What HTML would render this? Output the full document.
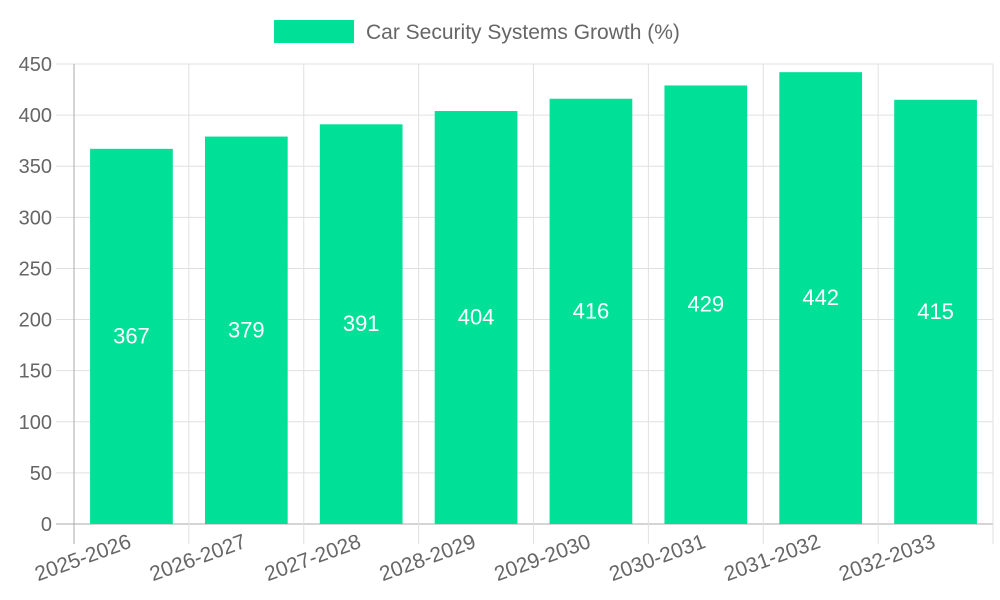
<!DOCTYPE html>
<html><head><meta charset="utf-8"><style>
body{margin:0;background:#fff;}
svg{font-family:"Liberation Sans",sans-serif;display:block}
</style></head><body>
<svg id="chart" width="1000" height="600">
<g>
<rect x="274" y="20" width="80" height="23" fill="#00e096"/>
<text x="366" y="39" font-size="21" fill="#666">Car Security Systems Growth (%)</text>
</g>
<g id="grid"></g>
<g id="bars"></g>
<g id="axes"></g>
</svg>
<script>
const categories=["2025-2026","2026-2027","2027-2028","2028-2029","2029-2030","2030-2031","2031-2032","2032-2033"];
const values=[367,379,391,404,416,429,442,415];
const yTicks=[0,50,100,150,200,250,300,350,400,450];
const L=74,R=993,T=64,B=524,yMax=450;
const NS="http://www.w3.org/2000/svg";
const bw=(R-L)/categories.length;
const y=v=>B-(v/yMax)*(B-T);
const x=i=>L+i*bw;
function mk(p,tag,a){const e=document.createElementNS(NS,tag);for(const k in a)e.setAttribute(k,a[k]);p.appendChild(e);return e;}
const g=document.getElementById('grid'),bs=document.getElementById('bars'),ax=document.getElementById('axes');
yTicks.forEach(t=>{
  const l=mk(g,'line',{x1:L-18,x2:R,y1:y(t),y2:y(t),stroke:t===0?'#aaa':'#e0e0e0','stroke-width':1});
  
  
  const tx=mk(ax,'text',{x:L-22,y:y(t)+7,'text-anchor':'end','font-size':20,fill:'#666'});
  tx.textContent=t;
  
  
});
for(let i=0;i<=categories.length;i++){
  const l=mk(g,'line',{x1:x(i),x2:x(i),y1:T,y2:B+20,stroke:i===0?'#aaa':'#e0e0e0','stroke-width':1});
  
  
}
categories.forEach((c,i)=>{
  const cx=x(i)+bw/2,w=bw*0.72;
  const r=mk(bs,'rect',{x:cx-w/2,y:y(values[i]),width:w,height:B-y(values[i]),fill:'#00e096'});
  
  
  const vt=mk(bs,'text',{x:cx,y:(y(values[i])+B)/2+7,'text-anchor':'middle','font-size':22,fill:'#fff'});
  vt.textContent=values[i];
  
  
  const lt=mk(ax,'text',{x:cx+1,y:B+23,'text-anchor':'end','font-size':21,fill:'#666',transform:`rotate(-20 ${cx+1} ${B+23})`});
  lt.textContent=c;
  
  
});
</script>
</body></html>
